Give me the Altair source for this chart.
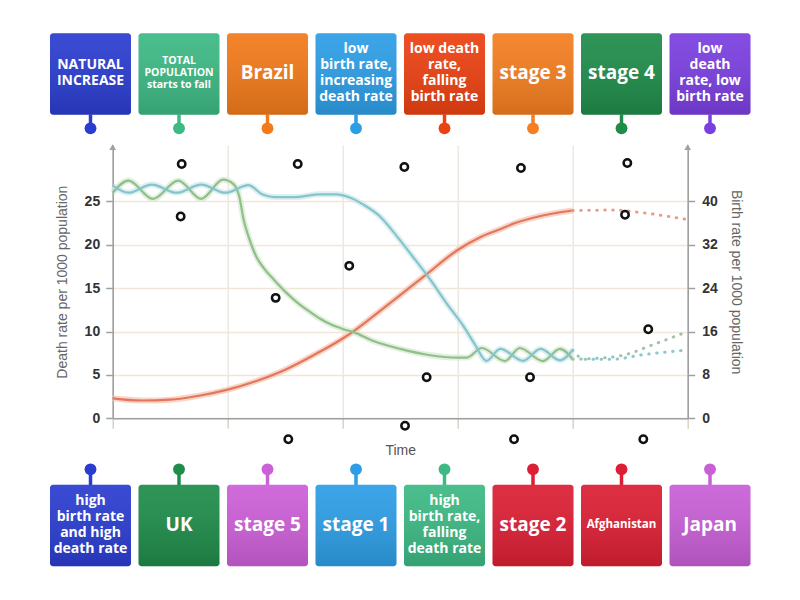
import altair as alt
import pandas as pd

# ---------------- data ----------------
TIME_TICKS = [0, 1, 2, 3, 4, 5]
DEATH_TICKS = [0, 5, 10, 15, 20, 25]
BIRTH_TICKS = [0, 8, 16, 24, 32, 40]

# total population (orange) - left scale units
POP_T = [0, 0.25, 0.5, 0.75, 1.0, 1.25, 1.5, 1.75, 2.0, 2.09, 2.25, 2.5, 2.72, 3.0, 3.2, 3.37, 3.5, 3.75, 4.0]
POP_V = [2.3, 2.05, 2.15, 2.6, 3.3, 4.3, 5.6, 7.3, 9.2, 10.0, 11.6, 14.2, 16.5, 19.4, 20.9, 21.8, 22.5, 23.4, 23.95]
POP_PROJ_T = [4.0, 4.35, 4.6, 5.0]
POP_PROJ_V = [23.95, 24.0, 23.7, 22.9]

# death rate (green) - left axis
DEATH_T = [0, 0.136, 0.35, 0.57, 0.77, 0.96, 1.05, 1.10, 1.14, 1.18, 1.25, 1.32, 1.40, 1.50, 1.60,
           1.70, 1.80, 1.90, 2.00, 2.10, 2.25, 2.50, 2.75, 3.00, 3.08, 3.21, 3.41, 3.54, 3.74, 3.89, 4.00]
DEATH_V = [26.0, 27.4, 25.3, 27.4, 25.3, 27.5, 27.0, 25.6, 22.8, 21.0, 18.6, 17.2, 16.0, 14.6, 13.4,
           12.4, 11.5, 10.8, 10.3, 9.9, 9.0, 8.0, 7.3, 7.0, 7.0, 8.1, 6.6, 8.1, 6.6, 8.0, 6.8]
DEATH_PROJ_T = [4.0, 4.2, 4.45, 4.7, 5.0]
DEATH_PROJ_V = [6.8, 6.9, 7.3, 8.5, 10.0]

# birth rate (teal) - right axis
BIRTH_T = [0, 0.136, 0.34, 0.556, 0.77, 0.98, 1.18, 1.30, 1.40, 1.60, 1.80, 1.95, 2.05, 2.18,
           2.32, 2.47, 2.61, 2.76, 2.90, 3.05, 3.15, 3.25, 3.37, 3.57, 3.72, 3.89, 4.00]
BIRTH_V = [42.9, 41.6, 43.1, 41.6, 43.1, 41.6, 43.0, 41.3, 40.8, 40.8, 41.3, 41.3, 40.8, 39.4,
           37.3, 33.6, 29.8, 25.6, 21.3, 17.0, 13.6, 10.6, 12.8, 10.6, 12.8, 10.7, 12.6]
BIRTH_PROJ_T = [4.0, 4.1, 4.35, 4.6, 5.0]
BIRTH_PROJ_V = [12.6, 10.9, 10.9, 11.7, 12.6]

# drop-target rings (time, left-axis units)
TARGET_T = [0.600, 1.609, 2.536, 3.550, 4.475, 0.591, 4.455, 2.057, 1.417, 4.657,
            2.730, 3.629, 2.542, 1.527, 3.490, 4.614]
TARGET_V = [29.31, 29.31, 28.96, 28.85, 29.42, 23.26, 23.46, 17.57, 13.88, 10.27,
            4.73, 4.73, -0.85, -2.42, -2.42, -2.42]

TOP_LABELS = ["NATURAL\nINCREASE", "TOTAL\nPOPULATION\nstarts to fall", "Brazil",
              "low\nbirth rate,\nincreasing\ndeath rate", "low death\nrate,\nfalling\nbirth rate",
              "stage 3", "stage 4", "low\ndeath\nrate, low\nbirth rate"]
BOTTOM_LABELS = ["high\nbirth rate\nand high\ndeath rate", "UK", "stage 5", "stage 1",
                 "high\nbirth rate,\nfalling\ndeath rate", "stage 2", "Afghanistan", "Japan"]

# ---------------- styles ----------------
TOP_COLORS = ["#2b3dd0", "#3db984", "#f27a1a", "#2d9ee6", "#ec4112", "#f47e20", "#1f8c4a", "#7b3fe0"]
BOTTOM_COLORS = ["#2b3dd0", "#1f8c4a", "#cd5fd8", "#2d9ee6", "#3db984", "#dc1f34", "#dc1f34", "#c85fd6"]

BIG = ["Brazil", "stage 3", "stage 4", "UK", "stage 5", "stage 1", "stage 2", "Japan"]
SMALL = ["TOTAL\nPOPULATION\nstarts to fall"]
TINY = ["Afghanistan"]
MEDIUM = [l for l in TOP_LABELS + BOTTOM_LABELS if l not in BIG + SMALL + TINY]

W, H = 575, 273.3
X_DOM = [0, 5]
YL_DOM = [0, 31.5]
YR_DOM = [0, 50.4]

AXIS_GRAY = "#a0a0a0"

pop = pd.DataFrame({"t": POP_T, "v": POP_V})
pop_p = pd.DataFrame({"t": POP_PROJ_T, "v": POP_PROJ_V})
death = pd.DataFrame({"t": DEATH_T, "v": DEATH_V})
death_p = pd.DataFrame({"t": DEATH_PROJ_T, "v": DEATH_PROJ_V})
birth = pd.DataFrame({"t": BIRTH_T, "v": BIRTH_V})
birth_p = pd.DataFrame({"t": BIRTH_PROJ_T, "v": BIRTH_PROJ_V})
targets = pd.DataFrame({"t": TARGET_T, "v": TARGET_V})
boxes = pd.DataFrame({
    "label": TOP_LABELS + BOTTOM_LABELS,
    "row": ["top"] * len(TOP_LABELS) + ["bottom"] * len(BOTTOM_LABELS),
    "col": list(range(len(TOP_LABELS))) + list(range(len(BOTTOM_LABELS))),
})
COLS = list(range(8))

def xs():
    return alt.Scale(domain=X_DOM, nice=False, zero=False)

def ys(dom):
    return alt.Scale(domain=dom, nice=False, zero=False)

AX_X = alt.Axis(values=TIME_TICKS, labels=False, grid=True, gridColor="#ebe5db", gridWidth=1.3,
                domainColor=AXIS_GRAY, domainWidth=1.6, tickColor="#d8d2c8", tickSize=10, tickWidth=1.5,
                title="Time", titleFont="Liberation Sans", titleFontSize=14, titleFontWeight="normal",
                titleColor="#555555", titlePadding=14)
AX_YL = alt.Axis(values=DEATH_TICKS, grid=True, gridColor="#f1e7d8", gridWidth=1.5,
                 domainColor=AXIS_GRAY, domainWidth=1.6, tickColor=AXIS_GRAY, tickSize=7, tickWidth=1.5,
                 labelFont="Liberation Sans", labelFontSize=14, labelFontWeight="bold", labelColor="#333333",
                 labelPadding=6, title="Death rate per 1000 population", titleFont="Liberation Sans",
                 titleFontSize=14, titleFontWeight="normal", titleColor="#666666", titlePadding=15)
AX_YR = alt.Axis(orient="right", values=BIRTH_TICKS, grid=False,
                 domainColor=AXIS_GRAY, domainWidth=1.6, tickColor=AXIS_GRAY, tickSize=7, tickWidth=1.5,
                 labelFont="Liberation Sans", labelFontSize=14, labelFontWeight="bold", labelColor="#333333",
                 labelPadding=7, title="Birth rate per 1000 population", titleFont="Liberation Sans",
                 titleFontSize=14, titleFontWeight="normal", titleColor="#666666", titlePadding=11)


def line(df, color, width, ydom, opacity=1.0, dash=None, xaxis=None, yaxis=None):
    kw = dict(color=color, strokeWidth=width, interpolate="monotone", opacity=opacity)
    if dash is not None:
        kw.update(strokeDash=dash, strokeCap="round")
    return alt.Chart(df).mark_line(**kw).encode(
        x=alt.X("t:Q", scale=xs(), axis=xaxis),
        y=alt.Y("v:Q", scale=ys(ydom), axis=yaxis),
    )

ORANGE, ORANGE_G = "#e2775b", "#f7c3b2"
TEAL, TEAL_G = "#86c4cb", "#cfe8eb"
GREEN, GREEN_G = "#93be8c", "#d6e9d2"

layers = [
    line(pop, ORANGE_G, 6, YL_DOM, 0.7, xaxis=AX_X, yaxis=AX_YL),
    line(death, GREEN_G, 6, YL_DOM, 0.7),
    line(birth, TEAL_G, 6, YR_DOM, 0.7),
    line(pop, ORANGE, 2.2, YL_DOM),
    line(death, GREEN, 2.2, YL_DOM),
    line(birth, TEAL, 2.2, YR_DOM, yaxis=AX_YR),
    line(pop_p, "#eb9a86", 3, YL_DOM, dash=[0.5, 7.5]),
    line(death_p, "#9fc4a6", 3, YL_DOM, dash=[0.5, 7.5]),
    line(birth_p, "#8fc6d0", 3, YR_DOM, dash=[0.5, 7.5]),
]

# arrow heads on top of both vertical axes
arrows = pd.DataFrame({"t": [X_DOM[0], X_DOM[1]], "v": [YL_DOM[1] - 0.25] * 2})
layers.append(alt.Chart(arrows).mark_point(shape="triangle-up", filled=True, color=AXIS_GRAY,
                                           size=45, opacity=1).encode(
    x=alt.X("t:Q", scale=xs(), axis=None), y=alt.Y("v:Q", scale=ys(YL_DOM), axis=None)))

# drop-target rings
layers.append(alt.Chart(targets).mark_point(shape="circle", fill="white", stroke="#111111",
                                            strokeWidth=2.5, size=55, opacity=1, fillOpacity=1).encode(
    x=alt.X("t:Q", scale=xs(), axis=None), y=alt.Y("v:Q", scale=ys(YL_DOM), axis=None)))

# ---------------- label boxes ----------------
XB = alt.Scale(type="band", domain=COLS, range=[-62.7, 637.8], paddingInner=0.085, paddingOuter=0)
YB = alt.Scale(type="band", domain=["top", "bottom"], range=[-111.7, 421.2], paddingInner=0.8194, paddingOuter=0)
XP = alt.Scale(type="point", domain=COLS, range=[-22.2, 597.3], padding=0)
YT = alt.Scale(type="point", domain=["top", "bottom"], range=[-72.5, 379.5], padding=0)
YD = alt.Scale(type="point", domain=["top", "bottom"], range=[-16.7, 324.3], padding=0)
YS = alt.Scale(type="point", domain=["top", "bottom"], range=[-22.5, 332.0], padding=0)
CLR = alt.Color("label:N", scale=alt.Scale(domain=TOP_LABELS + BOTTOM_LABELS,
                                           range=TOP_COLORS + BOTTOM_COLORS), legend=None)

SHADE = alt.Gradient(gradient="linear", x1=0, y1=0, x2=0, y2=1, stops=[
    alt.GradientStop(color="rgba(255,255,255,0.07)", offset=0),
    alt.GradientStop(color="rgba(0,0,0,0.13)", offset=1),
])

layers.append(alt.Chart(boxes).mark_tick(orient="vertical", size=16, thickness=3.5, opacity=1).encode(
    x=alt.X("col:O", scale=XP, axis=None), y=alt.Y("row:N", scale=YS, axis=None), color=CLR))
layers.append(alt.Chart(boxes).mark_rect(cornerRadius=3).encode(
    x=alt.X("col:O", scale=XB, axis=None), y=alt.Y("row:N", scale=YB, axis=None), color=CLR))
layers.append(alt.Chart(boxes).mark_rect(cornerRadius=3, fill=SHADE).encode(
    x=alt.X("col:O", scale=XB, axis=None), y=alt.Y("row:N", scale=YB, axis=None)))
layers.append(alt.Chart(boxes).mark_circle(size=140, opacity=1).encode(
    x=alt.X("col:O", scale=XP, axis=None), y=alt.Y("row:N", scale=YD, axis=None), color=CLR))


def texts(labels, size, lh):
    """One text layer per line count, shifted so every block is centred in its box."""
    out = []
    counts = sorted({l.count("\n") + 1 for l in labels})
    for n in counts:
        group = [l for l in labels if l.count("\n") + 1 == n]
        out.append(alt.Chart(boxes).transform_filter(
            alt.FieldOneOfPredicate(field="label", oneOf=group)
        ).mark_text(font="Open Sans", fontWeight="bold", fontSize=size, lineHeight=lh, lineBreak="\n",
                    color="white", align="center", baseline="middle", dy=-(n - 1) * lh / 2).encode(
            x=alt.X("col:O", scale=XP, axis=None), y=alt.Y("row:N", scale=YT, axis=None), text="label:N"))
    return out

layers += texts(BIG, 19, 22)
layers += texts(MEDIUM, 14, 16)
layers += texts(SMALL, 10.5, 12)
layers += texts(TINY, 11.5, 14)

chart = alt.layer(*layers).resolve_scale(x="independent", y="independent").properties(
    width=W, height=H,
    autosize=alt.AutoSizeParams(type="none"),
    padding={"left": 104.7, "top": 137, "right": 104.3, "bottom": 173.7},
    background="white",
).configure_view(strokeWidth=0)

chart.save("out.html", embed_options={"renderer": "svg", "actions": False})
